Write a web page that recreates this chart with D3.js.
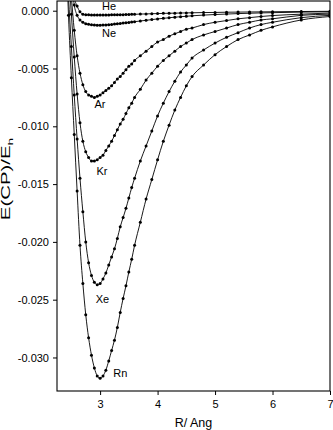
<!DOCTYPE html>
<html>
<head>
<meta charset="utf-8">
<script src="https://cdnjs.cloudflare.com/ajax/libs/d3/7.8.5/d3.min.js"></script>
<style>
	body { margin: 0; background: #fff; }
	svg { display: block; font-family: Arial, 'Liberation Sans', Helvetica, sans-serif; }
</style>
</head>
<body>
<div id="chart"></div>
<script>
// data //
var rValues = [2.40, 2.45, 2.50, 2.55, 2.60, 2.65, 2.70, 2.75, 2.80, 2.85, 2.90, 2.95, 3.00, 3.05, 3.10, 3.15, 3.20, 3.25, 3.30, 3.35, 3.40, 3.45, 3.50, 3.55, 3.60, 3.70, 3.80, 3.90, 4.00, 4.10, 4.20, 4.30, 4.40, 4.50, 4.60, 4.80, 5.00, 5.20, 5.40, 5.60, 5.80, 6.00, 6.50, 7.00]

var heValues = [0.0100, 0.0065, 0.0035, 0.0012, 0.0004, -0.0001, -0.00030, -0.00034, -0.00036, -0.00037, -0.00038, -0.00038, -0.00038, -0.00038, -0.00037, -0.00037, -0.00036, -0.00036, -0.00035, -0.00034, -0.00034, -0.00033, -0.00032, -0.00031, -0.00031, -0.00029, -0.00028, -0.00026, -0.00025, -0.00023, -0.00022, -0.00021, -0.00020, -0.00019, -0.00018, -0.00016, -0.00015, -0.00013, -0.00012, -0.00011, -0.00010, -0.00009, -0.00007, -0.00005]
var neValues = [0.0100, 0.0060, 0.0028, 0.0005, -0.0004, -0.0008, -0.0010, -0.00112, -0.00118, -0.00122, -0.00124, -0.00125, -0.00125, -0.00124, -0.00123, -0.00121, -0.00119, -0.00116, -0.00113, -0.00110, -0.00107, -0.00104, -0.00101, -0.00098, -0.00095, -0.00089, -0.00083, -0.00077, -0.00071, -0.00066, -0.00061, -0.00056, -0.00052, -0.00048, -0.00044, -0.00038, -0.00033, -0.00029, -0.00025, -0.00022, -0.00019, -0.00017, -0.00012, -0.00009]
var arValues = [0.0080, 0.0045, 0.0012, -0.0017, -0.0039, -0.0054, -0.0064, -0.0070, -0.0073, -0.0074, -0.0075, -0.0074, -0.0073, -0.0071, -0.0069, -0.0067, -0.0065, -0.0062, -0.0059, -0.0057, -0.0054, -0.0051, -0.0048, -0.0046, -0.0043, -0.0039, -0.0035, -0.0031, -0.0027, -0.0025, -0.0022, -0.0020, -0.0018, -0.0016, -0.0015, -0.0012, -0.0010, -0.00085, -0.0007, -0.0006, -0.0005, -0.00042, -0.0003, -0.0002]
var krValues = [0.0075, 0.0035, -0.0003, -0.0040, -0.0072, -0.0097, -0.0113, -0.0122, -0.0127, -0.0130, -0.0130, -0.0129, -0.0127, -0.0125, -0.0121, -0.0117, -0.0113, -0.0108, -0.0103, -0.0098, -0.0094, -0.0089, -0.0084, -0.0080, -0.0075, -0.0068, -0.0060, -0.0054, -0.0048, -0.0043, -0.0039, -0.0035, -0.0031, -0.0028, -0.0025, -0.0021, -0.0018, -0.0015, -0.0012, -0.0010, -0.0008, -0.0007, -0.0004, -0.0003]
var xeValues = [0.0060, 0.0012, -0.0031, -0.0073, -0.0111, -0.0145, -0.0174, -0.0200, -0.0218, -0.0229, -0.0235, -0.0237, -0.0236, -0.0232, -0.0227, -0.0220, -0.0213, -0.0206, -0.0197, -0.0187, -0.0179, -0.0171, -0.0162, -0.0153, -0.0145, -0.0130, -0.0117, -0.0104, -0.0091, -0.0080, -0.0070, -0.0061, -0.0053, -0.0047, -0.0041, -0.0034, -0.0028, -0.0023, -0.0019, -0.0015, -0.0012, -0.0010, -0.0006, -0.0004]
var rnValues = [0.0067, -0.0004, -0.0058, -0.0107, -0.0156, -0.0203, -0.0236, -0.0263, -0.0283, -0.0298, -0.0309, -0.0316, -0.0318, -0.0316, -0.0311, -0.0303, -0.0294, -0.0285, -0.0274, -0.0261, -0.0249, -0.0238, -0.0226, -0.0215, -0.0203, -0.0183, -0.0163, -0.0146, -0.0129, -0.0113, -0.0099, -0.0086, -0.0075, -0.0065, -0.0057, -0.0047, -0.0038, -0.0031, -0.0025, -0.0021, -0.0017, -0.0014, -0.0008, -0.0005]

var seriesNames = ['He', 'Ne', 'Ar', 'Kr', 'Xe', 'Rn']
var seriesValues = [heValues, neValues, arValues, krValues, xeValues, rnValues]

// where each name sits, in data units (R, E)
var labelR = [3.155, 3.155, 2.998, 3.033, 3.042, 3.35]
var labelE = [0.00006, -0.00228, -0.00842, -0.01421, -0.02529, -0.03169]

var xTicks = [3, 4, 5, 6, 7]
var xTickLabels = ['3', '4', '5', '6', '7']
var yTicks = [0, -0.005, -0.010, -0.015, -0.020, -0.025, -0.030]
var yTickLabels = ['0.000', '-0.005', '-0.010', '-0.015', '-0.020', '-0.025', '-0.030']

// svg //
var visWidth = 333,
		visHeight = 430,
		plotLeft = 57,
		plotRight = 330,
		plotTop = 1,
		plotBottom = 391

var vis = d3.select('#chart')
	.append('svg')
		.attr('width', visWidth)
		.attr('height', visHeight)

var x = d3.scaleLinear()
	.domain([2.25, 7])
	.range([plotLeft, plotRight])

var y = d3.scaleLinear()
	.domain([-0.0329, 0.00084])
	.range([plotBottom, plotTop])

// clip to the frame
vis.append('defs')
	.append('clipPath')
		.attr('id', 'plot_clip')
	.append('rect')
		.attr('x', plotLeft)
		.attr('y', plotTop)
		.attr('width', plotRight - plotLeft)
		.attr('height', plotBottom - plotTop)

// axes //
var xAxis = vis.append('g')
	.attr('transform', 'translate(0,' + plotBottom + ')')
	.call(d3.axisBottom(x)
		.tickValues(xTicks)
		.tickSize(4)
		.tickPadding(5)
		.tickFormat(function(d, i) { return xTickLabels[i] }))

var yAxis = vis.append('g')
	.attr('transform', 'translate(' + plotLeft + ',0)')
	.call(d3.axisLeft(y)
		.tickValues(yTicks)
		.tickSize(4)
		.tickPadding(4)
		.tickFormat(function(d, i) { return yTickLabels[i] }))

vis.selectAll('.domain').remove()
vis.selectAll('.tick line')
	.attr('stroke', '#000')
vis.selectAll('.tick text')
	.attr('fill', '#000')
	.style('font-size', '11px')
	.style('font-family', 'Arial, "Liberation Sans", sans-serif')

// frame
vis.append('rect')
	.attr('x', plotLeft)
	.attr('y', plotTop)
	.attr('width', plotRight - plotLeft)
	.attr('height', plotBottom - plotTop)
	.attr('fill', 'none')
	.attr('stroke', '#000')
	.attr('stroke-width', 1.1)

// curves //
var line = d3.line()
	.x(function(d) { return x(d[0]) })
	.y(function(d) { return y(d[1]) })
	.curve(d3.curveMonotoneX)

var curves = vis.append('g')
	.attr('clip-path', 'url(#plot_clip)')

seriesValues.forEach(function(values, s) {
	var points = rValues.map(function(r, i) { return [r, values[i]] })

	curves.append('path')
		.datum(points)
		.attr('d', line)
		.attr('fill', 'none')
		.attr('stroke', '#000')
		.attr('stroke-width', 0.9)

	curves.selectAll('.dot_' + s)
			.data(points).enter()
		.append('circle')
			.attr('class', 'dot_' + s)
			.attr('cx', function(d) { return x(d[0]) })
			.attr('cy', function(d) { return y(d[1]) })
			.attr('r', 1.5)
			.attr('fill', '#000')
})

// curve names
vis.selectAll('.name')
		.data(seriesNames).enter()
	.append('text')
		.attr('class', 'name')
		.attr('x', function(d, i) { return x(labelR[i]) })
		.attr('y', function(d, i) { return y(labelE[i]) })
		.attr('text-anchor', 'middle')
		.style('font-size', '11px')
		.text(function(d) { return d })

// axis titles
vis.append('text')
	.attr('x', (plotLeft + plotRight) / 2)
	.attr('y', 427)
	.attr('text-anchor', 'middle')
	.style('font-size', '12.5px')
	.text('R/ Ang')

var yTitle = vis.append('text')
	.attr('transform', 'translate(10,179) rotate(-90) scale(1.7,1)')
	.attr('text-anchor', 'middle')
	.style('font-size', '12px')

yTitle.append('tspan')
	.text('E(CP)/E')
yTitle.append('tspan')
	.attr('dy', 3)
	.style('font-size', '8px')
	.text('h')
</script>
</body>
</html>
